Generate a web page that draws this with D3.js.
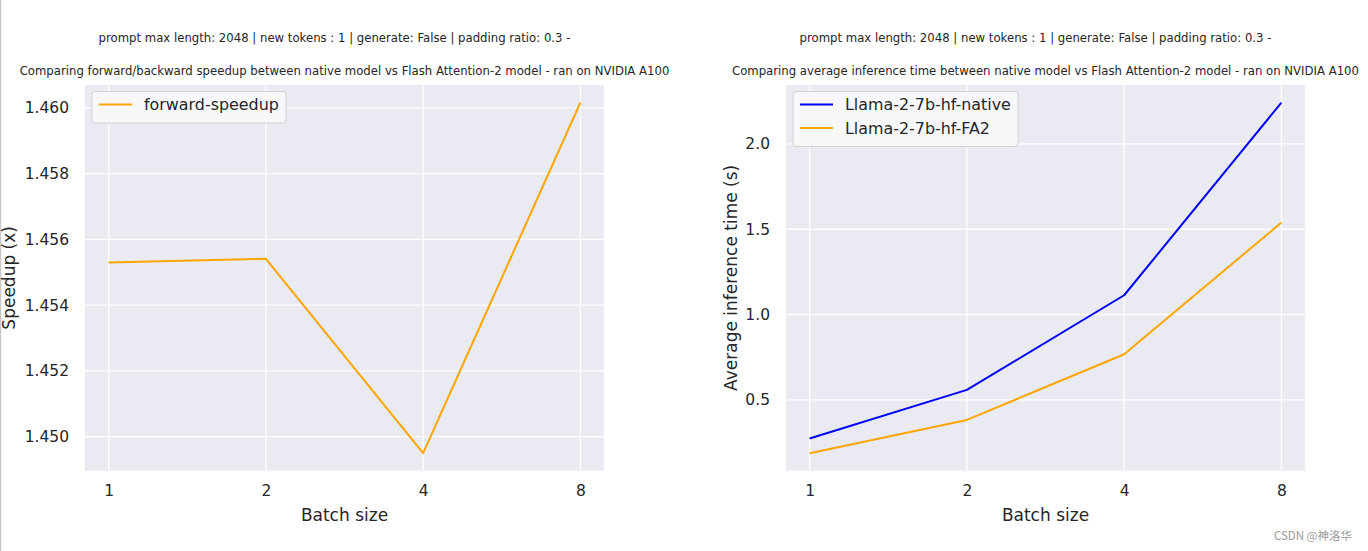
<!DOCTYPE html>
<html>
<head>
<meta charset="utf-8">
<script src="https://cdn.jsdelivr.net/npm/d3@7"></script>
<style>
  body { margin: 0; background: #fff; }
  svg { display: block; font-family: "DejaVu Sans", sans-serif; }
</style>
</head>
<body>
<svg id="chart" width="1368" height="551"></svg>
<script>
// data
var batchSizes = ["1", "2", "4", "8"];
var forwardSpeedup = [1.45530, 1.45541, 1.44950, 1.46016];
var nativeTime = [0.273, 0.558, 1.113, 2.243];
var fa2Time = [0.187, 0.382, 0.767, 1.539];
var speedupTicks = [1.450, 1.452, 1.454, 1.456, 1.458, 1.460];
var timeTicks = [0.5, 1.0, 1.5, 2.0];
var titleLine1 = "prompt max length: 2048 | new tokens : 1 | generate: False | padding ratio: 0.3 -";

var svg = d3.select("#chart");
var plotTop = 85, plotBottom = 470.7;

// grey edge on the far left of the screenshot
svg.append("line").attr("x1", 0.5).attr("x2", 0.5).attr("y1", 0).attr("y2", 551)
   .attr("stroke", "#c8c8c8").attr("stroke-width", 1.5);

function margin(vals){
  var lo = d3.min(vals), hi = d3.max(vals), m = (hi - lo) * 0.05;
  return [lo - m, hi + m];
}

function panel(opt){
  var x = d3.scalePoint().domain(batchSizes).range([opt.left, opt.right]).padding(0.15);
  var y = d3.scaleLinear().domain(margin(opt.allVals)).range([plotBottom, plotTop]);
  var g = svg.append("g");

  g.append("rect").attr("x", opt.left).attr("y", plotTop)
   .attr("width", opt.right - opt.left).attr("height", plotBottom - plotTop)
   .attr("fill", "#eaeaf2");

  g.selectAll(".gx").data(batchSizes).enter().append("line")
   .attr("x1", function(d){ return x(d); }).attr("x2", function(d){ return x(d); })
   .attr("y1", plotTop).attr("y2", plotBottom)
   .attr("stroke", "#fff").attr("stroke-width", 1.3);
  g.selectAll(".gy").data(opt.ticks).enter().append("line")
   .attr("x1", opt.left).attr("x2", opt.right)
   .attr("y1", function(d){ return y(d); }).attr("y2", function(d){ return y(d); })
   .attr("stroke", "#fff").attr("stroke-width", 1.3);

  // axes, drawn through d3 axis with no domain/ticks lines
  var xa = g.append("g").attr("transform", "translate(0," + plotBottom + ")")
    .call(d3.axisBottom(x).tickSize(0).tickPadding(14));
  var ya = g.append("g").attr("transform", "translate(" + opt.left + ",0)")
    .call(d3.axisLeft(y).tickValues(opt.ticks).tickFormat(d3.format(opt.fmt)).tickSize(0).tickPadding(16));
  [xa, ya].forEach(function(a){
    a.select(".domain").remove();
    a.selectAll("text").attr("font-size", 15.5).attr("fill", "#262626")
     .attr("font-family", "DejaVu Sans, sans-serif");
  });

  var line = d3.line().x(function(d, i){ return x(batchSizes[i]); }).y(function(d){ return y(d); });
  opt.series.forEach(function(s){
    g.append("path").datum(s.values).attr("d", line)
     .attr("fill", "none").attr("stroke", s.color).attr("stroke-width", 2)
     .attr("stroke-linejoin", "round");
  });

  var cx = (opt.left + opt.right) / 2;
  g.append("text").attr("x", cx - 10).attr("y", 42).attr("text-anchor", "middle")
   .attr("font-size", 11.7).attr("fill", "#262626").text(titleLine1);
  g.append("text").attr("x", cx).attr("y", 75).attr("text-anchor", "middle")
   .attr("font-size", 11.7).attr("fill", "#262626").text(opt.title);

  g.append("text").attr("x", cx).attr("y", 521).attr("text-anchor", "middle")
   .attr("font-size", 17).attr("fill", "#262626").text("Batch size");
  g.append("text").attr("transform", "translate(" + opt.ylabelX + "," + ((plotTop + plotBottom) / 2) + ") rotate(-90)")
   .attr("text-anchor", "middle").attr("font-size", 17).attr("fill", "#262626").text(opt.ylabel);

  // legend
  var lg = g.append("g").attr("transform", "translate(" + (opt.left + 7) + "," + (plotTop + 6.5) + ")");
  lg.append("rect").attr("width", opt.legendW).attr("height", 8 + opt.series.length * 23.5)
   .attr("rx", 3).attr("fill", "#f8f8fb").attr("stroke", "#d0d0d4").attr("stroke-width", 1);
  opt.series.forEach(function(s, i){
    var yy = 13 + i * 23.5;
    lg.append("line").attr("x1", 7).attr("x2", 40).attr("y1", yy).attr("y2", yy)
      .attr("stroke", s.color).attr("stroke-width", 2);
    lg.append("text").attr("x", 52).attr("y", yy + 5.5).attr("font-size", 15.9)
      .attr("fill", "#262626").text(s.name);
  });
}

panel({
  left: 85, right: 604,
  allVals: forwardSpeedup,
  ticks: speedupTicks, fmt: ".3f",
  series: [{name: "forward-speedup", values: forwardSpeedup, color: "orange"}],
  title: "Comparing forward/backward speedup between native model vs Flash Attention-2 model - ran on NVIDIA A100",
  ylabel: "Speedup (x)", ylabelX: 15, legendW: 194
});

panel({
  left: 786, right: 1305,
  allVals: nativeTime.concat(fa2Time),
  ticks: timeTicks, fmt: ".1f",
  series: [
    {name: "Llama-2-7b-hf-native", values: nativeTime, color: "blue"},
    {name: "Llama-2-7b-hf-FA2", values: fa2Time, color: "orange"}
  ],
  title: "Comparing average inference time between native model vs Flash Attention-2 model - ran on NVIDIA A100",
  ylabel: "Average inference time (s)", ylabelX: 737, legendW: 225
});

// watermark
svg.append("text").attr("x", 1352).attr("y", 540).attr("text-anchor", "end")
   .attr("font-size", 11.5).attr("fill", "#9a9a9a")
   .attr("font-family", "'Noto Sans CJK SC', sans-serif").text("CSDN @神洛华");
</script>
</body>
</html>
